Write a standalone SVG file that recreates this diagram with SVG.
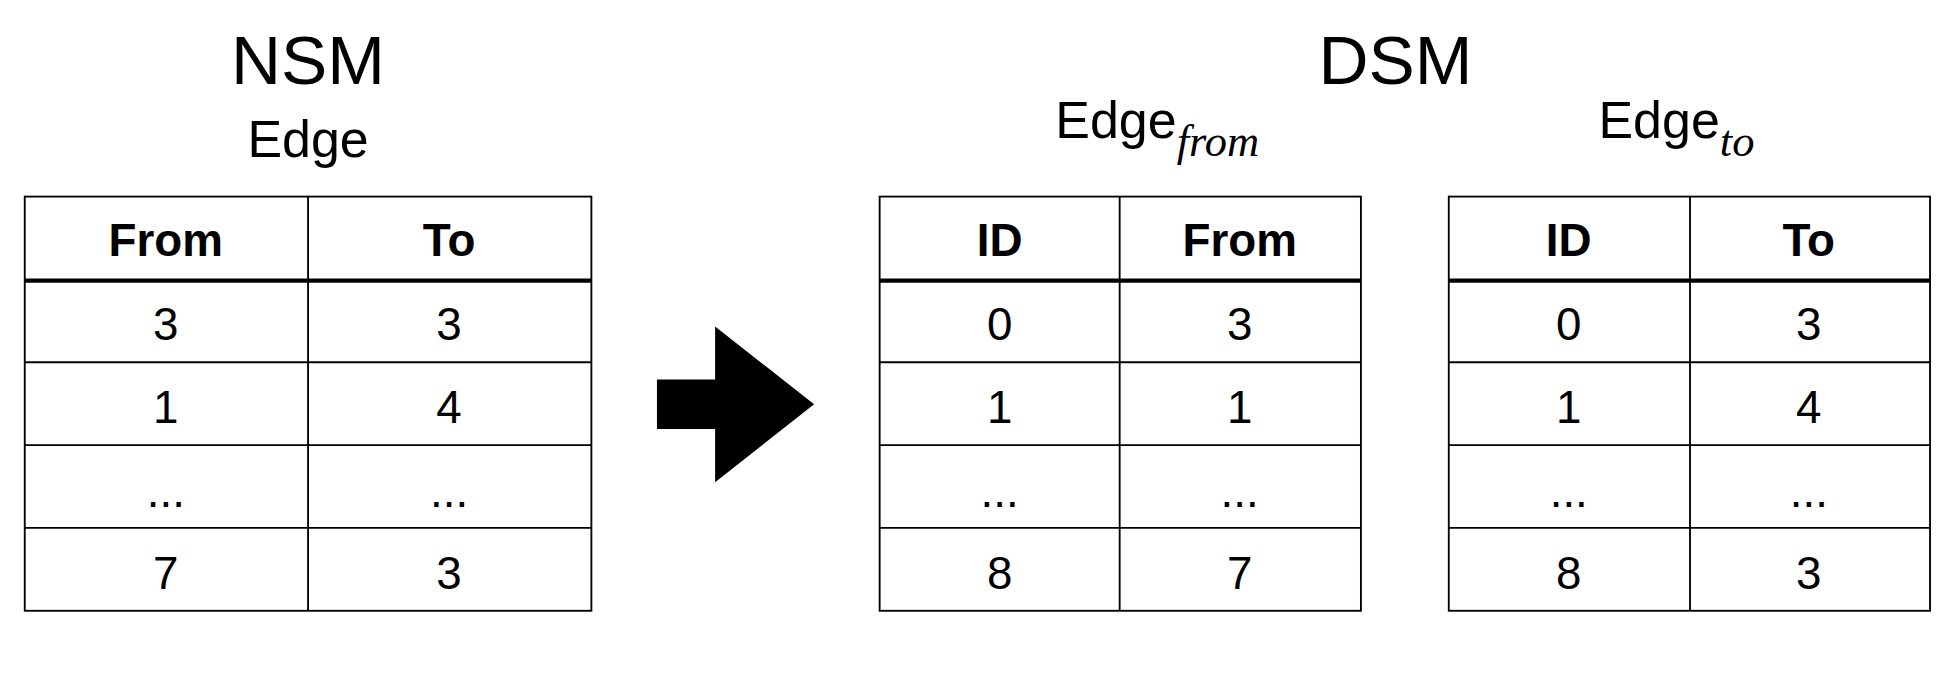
<svg xmlns="http://www.w3.org/2000/svg" width="1940" height="680" viewBox="0 0 1940 680">
<style>
.c{fill:#fff;stroke:#000;stroke-width:1.5}
.l{stroke:#000;stroke-width:1.5}
.h{stroke:#000;stroke-width:3.5}
text{font-family:"Liberation Sans",Arial,sans-serif;text-anchor:middle;fill:#000}
.b{font-weight:bold;font-size:37px}
.n{font-size:37px}
.t{font-size:56px}
.s{font-size:42px}
.i{font-family:"Liberation Serif","Times New Roman",serif;font-style:italic;font-size:36px}
</style>
<rect width="1940" height="680" fill="#fff"/>
<g transform="scale(1.2372,1.2364)">
<g id="titles">
<text class="t" x="249" y="68">NSM</text>
<text class="t" x="1128" y="68">DSM</text>
<text class="s" x="249" y="127">Edge</text>
<text class="s" x="853" y="112" text-anchor="start" style="text-anchor:start">Edge<tspan class="i" dy="14">from</tspan></text>
<text class="s" x="1292" y="112" style="text-anchor:start">Edge<tspan class="i" dy="14">to</tspan></text>
</g>
<g id="nsm">
<rect class="c" x="20" y="159" width="458" height="335"/>
<line class="l" x1="249" y1="159" x2="249" y2="494"/>
<line class="h" x1="20" y1="227" x2="478" y2="227"/>
<line class="l" x1="20" y1="293" x2="478" y2="293"/>
<line class="l" x1="20" y1="360" x2="478" y2="360"/>
<line class="l" x1="20" y1="427" x2="478" y2="427"/>
<text class="b" x="134" y="207">From</text><text class="b" x="363" y="207">To</text>
<text class="n" x="134" y="275">3</text><text class="n" x="363" y="275">3</text>
<text class="n" x="134" y="342">1</text><text class="n" x="363" y="342">4</text>
<text class="n" x="134" y="410">...</text><text class="n" x="363" y="410">...</text>
<text class="n" x="134" y="476">7</text><text class="n" x="363" y="476">3</text>
</g>
<g id="arrow"><polygon points="531,307 578,307 578,264 658,327 578,390 578,347 531,347" fill="#000"/></g>
<g id="edgefrom">
<rect class="c" x="711" y="159" width="389" height="335"/>
<line class="l" x1="905" y1="159" x2="905" y2="494"/>
<line class="h" x1="711" y1="227" x2="1100" y2="227"/>
<line class="l" x1="711" y1="293" x2="1100" y2="293"/>
<line class="l" x1="711" y1="360" x2="1100" y2="360"/>
<line class="l" x1="711" y1="427" x2="1100" y2="427"/>
<text class="b" x="808" y="207">ID</text><text class="b" x="1002" y="207">From</text>
<text class="n" x="808" y="275">0</text><text class="n" x="1002" y="275">3</text>
<text class="n" x="808" y="342">1</text><text class="n" x="1002" y="342">1</text>
<text class="n" x="808" y="410">...</text><text class="n" x="1002" y="410">...</text>
<text class="n" x="808" y="476">8</text><text class="n" x="1002" y="476">7</text>
</g>
<g id="edgeto">
<rect class="c" x="1171" y="159" width="389" height="335"/>
<line class="l" x1="1366" y1="159" x2="1366" y2="494"/>
<line class="h" x1="1171" y1="227" x2="1560" y2="227"/>
<line class="l" x1="1171" y1="293" x2="1560" y2="293"/>
<line class="l" x1="1171" y1="360" x2="1560" y2="360"/>
<line class="l" x1="1171" y1="427" x2="1560" y2="427"/>
<text class="b" x="1268" y="207">ID</text><text class="b" x="1462" y="207">To</text>
<text class="n" x="1268" y="275">0</text><text class="n" x="1462" y="275">3</text>
<text class="n" x="1268" y="342">1</text><text class="n" x="1462" y="342">4</text>
<text class="n" x="1268" y="410">...</text><text class="n" x="1462" y="410">...</text>
<text class="n" x="1268" y="476">8</text><text class="n" x="1462" y="476">3</text>
</g>
<g id="connectors"/>
</g>
</svg>
